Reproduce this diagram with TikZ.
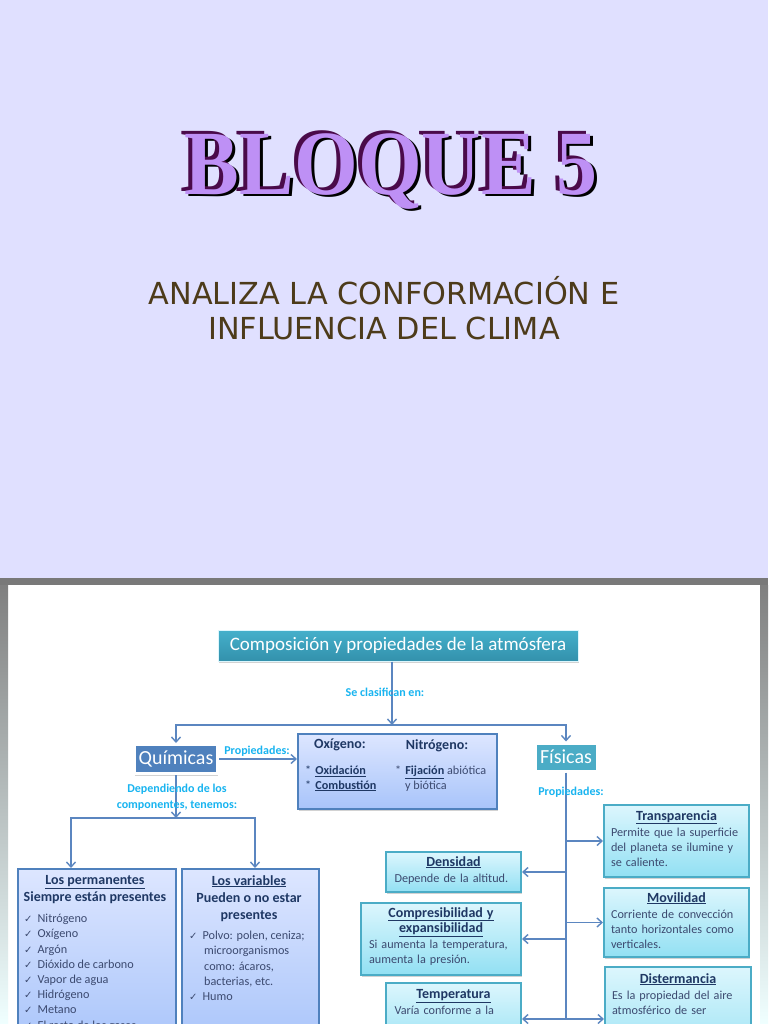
\documentclass[tikz,border=0pt]{standalone}
\usepackage{fontspec}
\setmainfont{Carlito}
\newfontfamily\slidefont{DejaVu Sans}
\newfontfamily\bloquefont{Liberation Serif}
\usetikzlibrary{arrows.meta,shadows}

\definecolor{slidebg}{HTML}{E0E0FF}
\definecolor{slideink}{HTML}{4D3B1A}
\definecolor{bloquelight}{HTML}{BE90F5}
\definecolor{bloquedark}{HTML}{4A0A4A}
\definecolor{linkblue}{HTML}{5B86C0}
\definecolor{labelcyan}{HTML}{18B4F0}
\definecolor{boxink}{HTML}{1F3864}
\definecolor{bodyink}{HTML}{3C4A70}
\definecolor{bluetop}{HTML}{DDE6FF}
\definecolor{bluebottom}{HTML}{A8C4FA}
\definecolor{cyantop}{HTML}{DCF6FD}
\definecolor{cyanbottom}{HTML}{92E0F3}
\definecolor{cyanedge}{HTML}{4BACC6}
\definecolor{headtop}{HTML}{45B0CB}
\definecolor{headbottom}{HTML}{3391AC}
\definecolor{quimicasfill}{HTML}{4F81BD}

\newcommand{\spreadline}[1]{\makebox[\linewidth][s]{#1}}
\newcommand{\tick}{{\slidefont\fontsize{10}{10}\selectfont ✓}}
\newcommand{\boxtitle}[1]{{\centering\textcolor{boxink}{\fontsize{14}{17.5}\selectfont\bfseries #1}\par}\vspace{1pt}}

\tikzset{
  link/.style={linkblue,line width=1.4pt},
  arrowlink/.style={link,-{Straight Barb[length=5pt,width=9pt]}},
  linklabel/.style={labelcyan,font=\fontsize{12}{16}\selectfont\bfseries,align=center,inner sep=0pt},
  bloque/.style={font=\bloquefont\fontsize{82}{82}\selectfont\bfseries,inner sep=0pt},
  headbox/.style={draw=white,line width=3pt,inner sep=0pt,text=white,font=\fontsize{20}{20}\selectfont,
    drop shadow={opacity=.35,shadow xshift=0.5pt,shadow yshift=-2pt}},
  bluebox/.style={draw=quimicasfill,line width=2pt,top color=bluetop,bottom color=bluebottom,inner sep=0pt,
    drop shadow={opacity=.35,shadow xshift=1pt,shadow yshift=-2pt}},
  cyanbox/.style={draw=cyanedge,line width=2pt,top color=cyantop,bottom color=cyanbottom,inner sep=0pt,
    drop shadow={opacity=.35,shadow xshift=1pt,shadow yshift=-2pt}},
  boxtext/.style={anchor=north,inner sep=0pt,text=bodyink,align=left,font=\fontsize{12.2}{15.2}\selectfont},
  boxhead/.style={text=boxink,font=\fontsize{14}{17}\selectfont\bfseries},
}

\begin{document}
\begin{tikzpicture}[x=1pt,y=-1pt]

\useasboundingbox (0,0) rectangle (768,1024) ;
\clip (0,0) rectangle (768,1024) ;

% upper slide
\fill[slidebg] (0,0) rectangle (768,578) ;

\node[bloque,text=black] (bloqueback) at (394,174) {\scalebox{1}[1.12]{BLOQUE 5}} ;
\node[bloque,text=bloquedark] (bloquemid) at (387,169) {\scalebox{1}[1.12]{BLOQUE 5}} ;
\node[bloque,text=bloquelight] (bloquetop) at (391,172) {\scalebox{1}[1.12]{BLOQUE 5}} ;

\node[text=slideink,font=\slidefont\fontsize{30.3}{35}\selectfont,align=center,inner sep=0pt] (analiza) at (384,308)
  {ANALIZA LA CONFORMACIÓN E\\INFLUENCIA DEL CLIMA} ;

% lower slide
\fill[white] (0,578) rectangle (768,1024) ;
\fill[gray!95!black] (0,578) rectangle (768,585) ;
\shade[top color=gray,bottom color=cyan!6!white] (0,585) rectangle (8,1024) ;
\shade[top color=gray,bottom color=cyan!6!white] (760,585) rectangle (768,1024) ;

\node[headbox,draw=cyantop,line width=1pt,top color=headtop,bottom color=headbottom,
  font=\fontsize{19}{19}\selectfont,minimum width=360pt,minimum height=31pt] (composicion) at (398,645.5)
  {Composición y propiedades de la atmósfera} ;

\node[headbox,fill=quimicasfill,minimum width=83pt,minimum height=29pt] (quimicas) at (176,759) {Químicas} ;
\node[headbox,fill=cyanedge,minimum width=62pt,minimum height=28pt] (fisicas) at (566,757) {Físicas} ;

\coordinate (split) at (392,725) ;
\coordinate (splitq) at (176,818) ;
\coordinate (permanentestop) at (71,868) ;
\coordinate (variablestop) at (255,868) ;

\draw[arrowlink] (split |- composicion.south) -- (split) ;
\draw[arrowlink] (split) -| (quimicas.north) ;
\draw[arrowlink] (split) -| (fisicas.north) ;

\node[linklabel] (seclasifican) at (385,692) {Se clasifican en:} ;

% quimicas
\node[bluebox,minimum width=199pt,minimum height=75pt] (gases) at (397.5,771.5) {} ;
\draw[arrowlink] (quimicas.east) -- (quimicas.east -| gases.west) ;
\node[linklabel] (propquimicas) at (257,751) {Propiedades:} ;

\node[boxtext,boxhead] (oxigeno) at (340,739) {Oxígeno:} ;
\node[boxtext,anchor=north west,text=boxink] (oxigenotxt) at (305,766)
  {*\,\,\textbf{\underline{Oxidación}}\\[-1pt]*\,\,\textbf{\underline{Combustión}}} ;
\node[boxtext,boxhead] (nitrogeno) at (437,739) {Nitrógeno:} ;
\node[boxtext,anchor=north west] (nitrogenotxt) at (395,766)
  {*\,\,\textcolor{boxink}{\textbf{\underline{Fijación}}} abiótica\\[-1pt]\hspace*{10pt}y biótica} ;

\draw[arrowlink] (quimicas.south) -- (splitq) ;
\node[linklabel] (dependiendo) at (177,797) {Dependiendo de los\\componentes, tenemos:} ;

\node[bluebox,minimum width=158pt,minimum height=180pt] (permanentes) at (97,959) {} ;
\node[bluebox,minimum width=137pt,minimum height=180pt] (variables) at (250.5,959) {} ;
\draw[arrowlink] (splitq) -| (permanentestop) ;
\draw[arrowlink] (splitq) -| (variablestop) ;

\node[boxtext,boxhead,align=center] (permanenteshead) at (95,875) {\underline{Los permanentes}\\Siempre están presentes} ;
\node[boxtext,anchor=north west] (permanentestxt) at (24,914)
  {\tick\hspace{5pt}Nitrógeno\\\tick\hspace{5pt}Oxígeno\\\tick\hspace{5pt}Argón\\\tick\hspace{5pt}Dióxido de carbono\\\tick\hspace{5pt}Vapor de agua\\\tick\hspace{5pt}Hidrógeno\\\tick\hspace{5pt}Metano\\\tick\hspace{5pt}El resto de los gases} ;

\node[boxtext,boxhead,align=center] (variableshead) at (249,875) {\underline{Los variables}\\Pueden o no estar\\presentes} ;
\node[boxtext,anchor=north west] (variablestxt) at (189,931)
  {\tick\hspace{5pt}Polvo: polen, ceniza;\\\hspace*{15pt}microorganismos\\\hspace*{15pt}como: ácaros,\\\hspace*{15pt}bacterias, etc.\\\tick\hspace{5pt}Humo} ;

% fisicas
\node[cyanbox,minimum width=145pt,minimum height=72pt] (transparencia) at (676.5,841) {} ;
\node[cyanbox,minimum width=135pt,minimum height=40pt] (densidad) at (453.5,872) {} ;
\node[cyanbox,minimum width=145pt,minimum height=69pt] (movilidad) at (676.5,922.5) {} ;
\node[cyanbox,minimum width=160pt,minimum height=72pt] (compresibilidad) at (441,939) {} ;
\node[cyanbox,minimum width=135pt,minimum height=72pt] (temperatura) at (453.5,1019) {} ;
\node[cyanbox,minimum width=146pt,minimum height=104pt] (distermancia) at (678,1019) {} ;

\coordinate (trunkend) at (fisicas.south |- distermancia.west) ;

\draw[link] (fisicas.south) -- (trunkend) ;
\draw[arrowlink] (fisicas.south |- transparencia.west) -- (transparencia.west) ;
\draw[arrowlink] (fisicas.south |- densidad.east) -- (densidad.east) ;
\draw[arrowlink] (fisicas.south |- movilidad.west) -- (movilidad.west) ;
\draw[arrowlink] (fisicas.south |- compresibilidad.east) -- (compresibilidad.east) ;
\draw[arrowlink] (trunkend) -- (temperatura.east) ;
\draw[arrowlink] (trunkend) -- (distermancia.west) ;

\node[linklabel] (propfisicas) at (571,792) {Propiedades:} ;

\node[boxtext,text width=131pt] (transparenciatxt) at ([yshift=-6pt]transparencia.north)
  {\boxtitle{\underline{Transparencia}}
  \spreadline{Permite que la superficie}\\\spreadline{del planeta se ilumine y}\\se caliente.} ;
\node[boxtext,text width=118pt] (densidadtxt) at ([yshift=-5pt]densidad.north)
  {\boxtitle{\underline{Densidad}} Depende de la altitud.} ;
\node[boxtext,text width=131pt] (movilidadtxt) at ([yshift=-5pt]movilidad.north)
  {\boxtitle{\underline{Movilidad}}
  \spreadline{Corriente de convección}\\\spreadline{tanto horizontales como}\\verticales.} ;
\node[boxtext,text width=144pt] (compresibilidadtxt) at ([yshift=-5pt]compresibilidad.north)
  {\boxtitle{\underline{Compresibilidad y}\\\underline{expansibilidad}}
  Si aumenta la temperatura,\\aumenta la presión.} ;
\node[boxtext,text width=118pt] (temperaturatxt) at ([yshift=-7pt]temperatura.north)
  {\boxtitle{\underline{Temperatura}} Varía conforme a la} ;
\node[boxtext,text width=132pt] (distermanciatxt) at ([yshift=-7pt]distermancia.north)
  {\boxtitle{\underline{Distermancia}}
  \spreadline{Es la propiedad del aire}\\\spreadline{atmosférico de ser}} ;

\end{tikzpicture}
\end{document}
